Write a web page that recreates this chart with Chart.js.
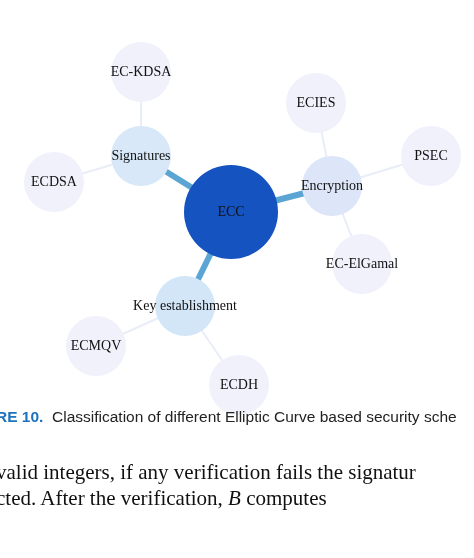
<!DOCTYPE html>
<html>
<head>
<meta charset="utf-8">
<script src="https://cdn.jsdelivr.net/npm/chart.js@4"></script>
<style>
  body { margin: 0; background: #fff; width: 474px; height: 558px; overflow: hidden; position: relative; }
  #wrap { position: absolute; left: 0; top: 0; width: 474px; height: 558px; }
  .cap { position: absolute; left: -4px; top: 408px; font-family: "Liberation Sans", Arial, sans-serif; font-size: 15.5px; color: #222; white-space: nowrap; }
  .cap b { color: #1e73be; }
  .body { position: absolute; left: -4px; font-family: "Liberation Serif", "DejaVu Serif", serif; font-size: 21px; color: #111; white-space: nowrap; }
</style>
</head>
<body>
<div id="wrap"><canvas id="graph" width="474" height="558"></canvas></div>
<div class="cap"><b>RE 10.</b>&nbsp; Classification of different Elliptic Curve based security sche</div>
<div class="body" style="top:460px">valid integers, if any verification fails the signatur</div>
<div class="body" style="top:486px">cted. After the verification, <i>B</i> computes</div>
<script>
// nodes
const nodeNames = ["ECC", "Signatures", "Encryption", "Key establishment",
  "EC-KDSA", "ECDSA", "ECIES", "PSEC", "EC-ElGamal", "ECMQV", "ECDH"];
const nodeX = [231, 141, 332, 185, 141, 54, 316, 431, 362, 96, 239];
const nodeY = [212, 156, 186, 306, 72, 182, 103, 156, 264, 346, 385];
const nodeLevel = [0, 1, 1, 1, 2, 2, 2, 2, 2, 2, 2];

// edges (from, to)
const edgeFrom = [0, 0, 0, 1, 1, 2, 2, 2, 3, 3];
const edgeTo   = [1, 2, 3, 4, 5, 6, 7, 8, 9, 10];

const levelRadius = [47, 30, 30];
const levelColor = ["#1453c0", "#dce7f8", "#f1f1fc"];
const kidColor = ["#d8e8f8", "#dde6f8", "#d3e6f8"];

const edgeSets = edgeFrom.map((f, i) => {
  const t = edgeTo[i];
  const hub = nodeLevel[f] === 0;
  return {
    type: "line",
    data: [{ x: nodeX[f], y: nodeY[f] }, { x: nodeX[t], y: nodeY[t] }],
    borderColor: hub ? "#5aa5d3" : "#e8edf8",
    borderWidth: hub ? 6 : 2,
    pointRadius: 0,
    clip: false,
    order: 2
  };
});

const nodeSet = {
  type: "bubble",
  data: nodeNames.map((n, i) => ({ x: nodeX[i], y: nodeY[i], r: levelRadius[nodeLevel[i]] })),
  backgroundColor: nodeNames.map((n, i) => i >= 1 && i <= 3 ? kidColor[i - 1] : levelColor[nodeLevel[i]]),
  borderWidth: 0,
  clip: false,
  order: 1
};

const labelPlugin = {
  id: "labels",
  afterDatasetsDraw(chart) {
    const { ctx, scales } = chart;
    ctx.save();
    ctx.textAlign = "center";
    ctx.textBaseline = "middle";
    ctx.font = "14px 'Liberation Serif', serif";
    nodeNames.forEach((n, i) => {
      ctx.fillStyle = "#111";
      ctx.fillText(n, scales.x.getPixelForValue(nodeX[i]), scales.y.getPixelForValue(nodeY[i]));
    });
    ctx.restore();
  }
};

new Chart(document.getElementById("graph"), {
  data: { datasets: [...edgeSets, nodeSet] },
  options: {
    responsive: false,
    animation: false,
    devicePixelRatio: 1,
    layout: { padding: 0, autoPadding: false },
    plugins: { legend: { display: false }, tooltip: { enabled: false } },
    scales: {
      x: { type: "linear", min: 0, max: 474, display: false },
      y: { type: "linear", min: 0, max: 558, reverse: true, display: false }
    }
  },
  plugins: [labelPlugin]
});
</script>
</body>
</html>
